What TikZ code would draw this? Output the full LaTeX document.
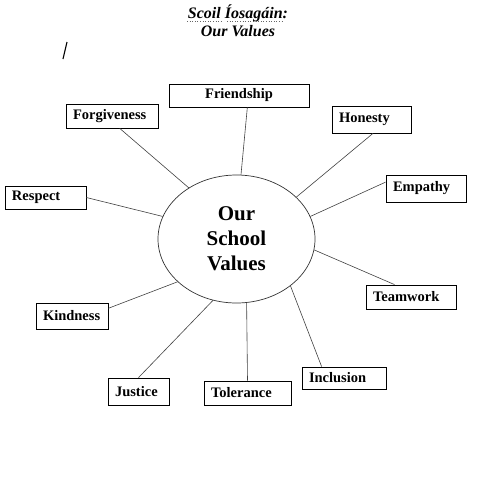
\documentclass[tikz,border=0pt]{standalone}
\usepackage{fontspec}
\setmainfont{Liberation Serif}
\usetikzlibrary{shapes.geometric}

\tikzset{
  valbox/.style={draw, line width=0.8pt, inner xsep=7pt, inner ysep=0pt, align=left,
    font=\fontsize{14.5}{16}\selectfont\bfseries},
  spoke/.style={draw=black!75, line width=0.6pt},
  squiggle/.style={draw=black!60, line width=0.6pt, dotted}
}

\begin{document}
\begin{tikzpicture}[x=1pt,y=-1pt]
  \useasboundingbox (0,0) rectangle (481,480);

  % Title
  \node[align=center, font=\fontsize{16}{18}\selectfont\bfseries\itshape] (title) at (238,21)
    {Scoil Íosagáin:\\Our Values};
  \draw[squiggle] (187,21) -- (221,21);
  \draw[squiggle] (227,21) -- (282,21);
  \draw[line width=1.1pt] (67,42) -- (63,59);

  % Centre
  \node[ellipse, draw=black!80, line width=0.7pt, minimum width=157pt, minimum height=128pt,
    inner sep=0pt, align=center, font=\fontsize{21}{25}\selectfont\bfseries] (values)
    at (236.5,239) {Our\\School\\Values};

  % Values
  \node[valbox, text width=78pt, minimum height=24pt] (forgive) at (112,116) {Forgiveness};
  \node[valbox, text width=126pt, align=center, minimum height=23pt] (friend) at (239,95.5) {Friendship};
  \node[valbox, text width=65pt, minimum height=27pt] (honest) at (371.5,119.5) {Honesty};
  \node[valbox, text width=66pt, minimum height=27pt] (empathy) at (426,188.5) {Empathy};
  \node[valbox, text width=67pt, minimum height=23pt] (respect) at (45.5,197.5) {Respect};
  \node[valbox, text width=58pt, minimum height=26pt] (kind) at (72,316) {Kindness};
  \node[valbox, text width=47pt, minimum height=27pt] (justice) at (138.5,391.5) {Justice};
  \node[valbox, text width=73pt, minimum height=24pt] (toler) at (247.5,393) {Tolerance};
  \node[valbox, text width=70pt, minimum height=22pt] (incl) at (344,378) {Inclusion};
  \node[valbox, text width=76pt, minimum height=24pt] (team) at (411,297) {Teamwork};

  % Spokes
  \draw[spoke] (forgive.302) -- (values.133);
  \draw[spoke] (friend.305) -- (values.86);
  \draw[spoke] (honest.276) -- (values.35.5);
  \draw[spoke] (empathy.171) -- (values.17);
  \draw[spoke] (respect.east) -- (values.163);
  \draw[spoke] (kind.12.5) -- (values.216);
  \draw[spoke] (justice.north) -- (values.249);
  \draw[spoke] (toler.north) -- (values.279);
  \draw[spoke] (incl.153) -- (values.319);
  \draw[spoke] (team.143) -- (values.352);
\end{tikzpicture}
\end{document}
